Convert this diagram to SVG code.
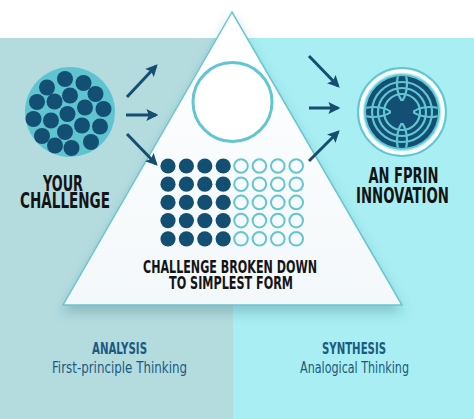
<svg xmlns="http://www.w3.org/2000/svg" width="474" height="419" viewBox="0 0 474 419">
<defs>
<style>
.t{font-family:"DejaVu Sans Condensed","Liberation Sans Narrow","Liberation Sans",sans-serif;font-weight:bold;text-anchor:middle}
.blk{fill:#141414}
.nv{fill:#1b5a80}
.sub{font-family:"DejaVu Sans Condensed","Liberation Sans Narrow","Liberation Sans",sans-serif;text-anchor:middle;fill:#1b5a80}
.dd{fill:#134e73}
.lc{fill:none;stroke:#62c6d0;stroke-width:2}
.arr{stroke:#174e70;stroke-width:3;fill:none;marker-end:url(#ah)}
</style>
<marker id="ah" viewBox="0 0 10 10" refX="8" refY="5" markerWidth="4" markerHeight="4" orient="auto" markerUnits="strokeWidth">
<path d="M0,0 L10,5 L0,10 L2,5 Z" fill="#174e70"/>
</marker>
<linearGradient id="tg" x1="0" y1="0" x2="0" y2="1">
<stop offset="0" stop-color="#ffffff"/>
<stop offset="1" stop-color="#f3f8fa"/>
</linearGradient>
<filter id="sh" x="-20%" y="-20%" width="140%" height="140%">
<feDropShadow dx="0" dy="7" stdDeviation="6" flood-color="#2a6f78" flood-opacity="0.3"/>
</filter>
<clipPath id="icl"><circle cx="402" cy="112" r="36"/></clipPath>
</defs>
<rect width="474" height="419" fill="#ffffff"/>
<rect x="0" y="38" width="233" height="381" fill="#b4dcdf"/>
<rect x="233" y="38" width="241" height="381" fill="#a8eef3"/>

<g id="triangle">
<polygon points="232,12 63,305 402,305" fill="url(#tg)" stroke="#68c5cd" stroke-width="1.5" filter="url(#sh)"/>
<circle cx="232.5" cy="102" r="39.5" fill="#ffffff" stroke="#62c6d0" stroke-width="3"/>
</g>

<g id="grid">
<g class="dd">
<circle cx="168" cy="166" r="7.6"/><circle cx="186.4" cy="166" r="7.6"/><circle cx="204.8" cy="166" r="7.6"/><circle cx="223.2" cy="166" r="7.6"/>
<circle cx="168" cy="184.2" r="7.6"/><circle cx="186.4" cy="184.2" r="7.6"/><circle cx="204.8" cy="184.2" r="7.6"/><circle cx="223.2" cy="184.2" r="7.6"/>
<circle cx="168" cy="202.4" r="7.6"/><circle cx="186.4" cy="202.4" r="7.6"/><circle cx="204.8" cy="202.4" r="7.6"/><circle cx="223.2" cy="202.4" r="7.6"/>
<circle cx="168" cy="220.6" r="7.6"/><circle cx="186.4" cy="220.6" r="7.6"/><circle cx="204.8" cy="220.6" r="7.6"/><circle cx="223.2" cy="220.6" r="7.6"/>
<circle cx="168" cy="238.8" r="7.6"/><circle cx="186.4" cy="238.8" r="7.6"/><circle cx="204.8" cy="238.8" r="7.6"/><circle cx="223.2" cy="238.8" r="7.6"/>
</g>
<g class="lc">
<circle cx="241" cy="166" r="6.8"/><circle cx="259.4" cy="166" r="6.8"/><circle cx="277.8" cy="166" r="6.8"/><circle cx="296.2" cy="166" r="6.8"/>
<circle cx="241" cy="184.2" r="6.8"/><circle cx="259.4" cy="184.2" r="6.8"/><circle cx="277.8" cy="184.2" r="6.8"/><circle cx="296.2" cy="184.2" r="6.8"/>
<circle cx="241" cy="202.4" r="6.8"/><circle cx="259.4" cy="202.4" r="6.8"/><circle cx="277.8" cy="202.4" r="6.8"/><circle cx="296.2" cy="202.4" r="6.8"/>
<circle cx="241" cy="220.6" r="6.8"/><circle cx="259.4" cy="220.6" r="6.8"/><circle cx="277.8" cy="220.6" r="6.8"/><circle cx="296.2" cy="220.6" r="6.8"/>
<circle cx="241" cy="238.8" r="6.8"/><circle cx="259.4" cy="238.8" r="6.8"/><circle cx="277.8" cy="238.8" r="6.8"/><circle cx="296.2" cy="238.8" r="6.8"/>
</g>
<text class="t blk" x="230" y="272.5" font-size="17.5" textLength="174" lengthAdjust="spacingAndGlyphs">CHALLENGE BROKEN DOWN</text>
<text class="t blk" x="231" y="289.3" font-size="17.5" textLength="124" lengthAdjust="spacingAndGlyphs">TO SIMPLEST FORM</text>
</g>

<g id="your-challenge">
<circle cx="70" cy="112" r="45" fill="#5ec4d0"/>
<g class="dd">
<circle cx="65" cy="79" r="8"/><circle cx="83.5" cy="83" r="8"/><circle cx="47" cy="87.5" r="8"/>
<circle cx="95.5" cy="94" r="8"/><circle cx="70" cy="95.5" r="8"/><circle cx="37" cy="102" r="8"/>
<circle cx="54.5" cy="101.5" r="8"/><circle cx="85" cy="107.5" r="8"/><circle cx="103.5" cy="109" r="8"/>
<circle cx="67.5" cy="114" r="8"/><circle cx="33.5" cy="119" r="8"/><circle cx="51" cy="120.5" r="8"/>
<circle cx="82" cy="125.5" r="8"/><circle cx="100" cy="126.5" r="8"/><circle cx="65" cy="132" r="8"/>
<circle cx="42" cy="136" r="8"/><circle cx="91" cy="142" r="8"/><circle cx="55" cy="145.5" r="8"/>
<circle cx="71.5" cy="148" r="8"/>
</g>
<text class="t blk" x="63" y="190.7" font-size="22" textLength="40" lengthAdjust="spacingAndGlyphs">YOUR</text>
<text class="t blk" x="65" y="208.3" font-size="21.5" textLength="90" lengthAdjust="spacingAndGlyphs">CHALLENGE</text>
</g>

<g id="innovation">
<circle cx="402" cy="112" r="44" fill="none" stroke="#62c6d0" stroke-width="2"/>
<circle cx="402" cy="112" r="41" fill="none" stroke="#ffffff" stroke-width="3.5"/>
<circle cx="402" cy="112" r="38" fill="#62c6d0"/>
<circle cx="402" cy="112" r="36" fill="#134e73"/>
<g fill="none" stroke="#62c6d0" stroke-width="2.2" clip-path="url(#icl)">
<circle cx="402" cy="112" r="30"/>
<circle cx="402" cy="112" r="24"/>
<circle cx="402" cy="112" r="18"/>
<circle cx="430" cy="84" r="33"/>
<circle cx="374" cy="84" r="33"/>
<circle cx="430" cy="140" r="33"/>
<circle cx="374" cy="140" r="33"/>
</g>
<circle cx="402" cy="112" r="11" fill="#134e73"/>
<text class="t blk" x="403.5" y="183" font-size="20.5" textLength="70" lengthAdjust="spacingAndGlyphs">AN FPRIN</text>
<text class="t blk" x="402.5" y="203" font-size="20.5" textLength="93" lengthAdjust="spacingAndGlyphs">INNOVATION</text>
</g>

<g id="connectors">
<line class="arr" x1="127" y1="97" x2="156" y2="66"/>
<line class="arr" x1="126" y1="115" x2="156" y2="115"/>
<line class="arr" x1="127" y1="134" x2="156" y2="164"/>
<line class="arr" x1="309" y1="56" x2="338" y2="86"/>
<line class="arr" x1="309" y1="108" x2="338" y2="108"/>
<line class="arr" x1="309" y1="161" x2="338" y2="132"/>
</g>

<g id="analysis">
<text class="t nv" x="119.5" y="354" font-size="15" textLength="55" lengthAdjust="spacingAndGlyphs">ANALYSIS</text>
<text class="sub" x="119.5" y="372.5" font-size="15" textLength="135" lengthAdjust="spacingAndGlyphs">First-principle Thinking</text>
</g>
<g id="synthesis">
<text class="t nv" x="354" y="354" font-size="15" textLength="64" lengthAdjust="spacingAndGlyphs">SYNTHESIS</text>
<text class="sub" x="354.5" y="372.5" font-size="15" textLength="109" lengthAdjust="spacingAndGlyphs">Analogical Thinking</text>
</g>
</svg>
